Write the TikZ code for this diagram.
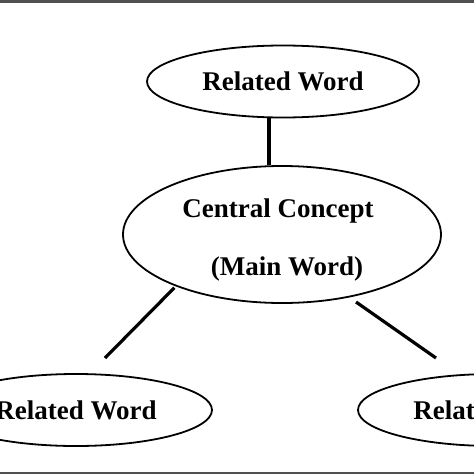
\documentclass[tikz,border=0pt]{standalone}
\usepackage{fontspec}
\setmainfont{Liberation Serif}
\usetikzlibrary{shapes.geometric}
\definecolor{bandgray}{RGB}{80,80,80}

\begin{document}
\begin{tikzpicture}[x=1pt,y=1pt,yscale=-1,
  bubble/.style={draw, ellipse, line width=1.8pt, inner sep=0pt,
    minimum width=272pt, minimum height=72pt,
    font=\fontsize{27}{32}\selectfont\bfseries},
  word/.style={inner sep=0pt, font=\fontsize{27}{32}\selectfont\bfseries},
  link/.style={line width=3.2pt}]
	\useasboundingbox (0,0) rectangle (474,474);
	\clip (0,0) rectangle (474,474);

	% frame bands
	\fill[bandgray] (0,0) rectangle (474,3);
	\fill[bandgray] (0,471.5) rectangle (474,474);

	% Ellipses
	\node[bubble] (top) at (283,81.5) {Related Word};
	\node[bubble, minimum width=318pt, minimum height=137pt] (central) at (282,234.5) {};
	\node[bubble] (left) at (76,410) {Related Word};
	\node[bubble] (right) at (494,410) {Related Word};

	% Text Node
	\node[word, anchor=base] (cname) at (278,217) {Central Concept};
	% Text Node
	\node[word, anchor=base] (cmain) at (287,275) {(Main Word)};

	% Links
	\coordinate (jt) at (269,0);
	\coordinate (lend) at (105,358);
	\coordinate (rend) at (436,358);
	\draw[link] (top.south -| jt) -- (central.north -| jt);
	\draw[link, shorten <=2pt] (central.206) -- (lend);
	\draw[link, shorten <=8pt] (central.317.6) -- (rend);

\end{tikzpicture}
\end{document}
